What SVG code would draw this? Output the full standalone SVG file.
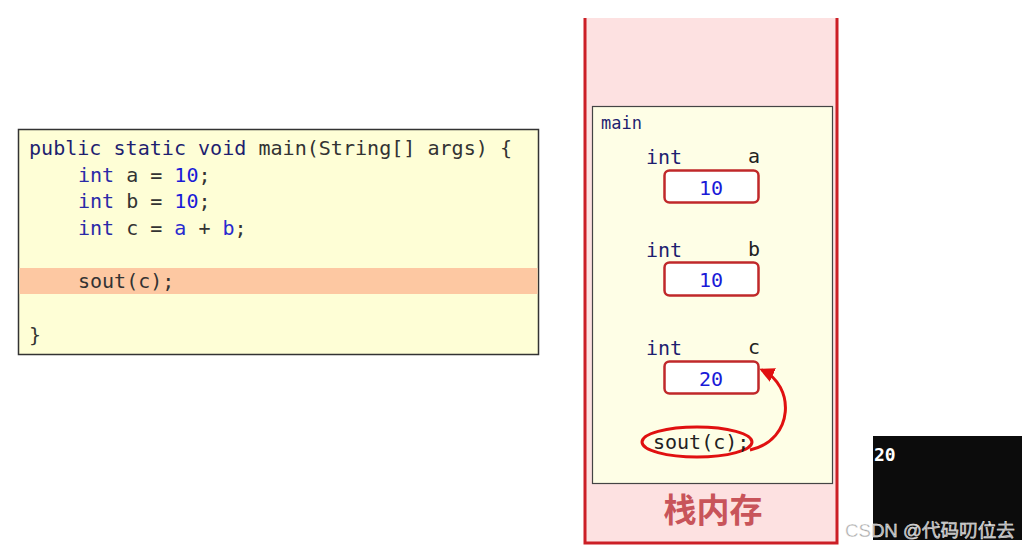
<svg xmlns="http://www.w3.org/2000/svg" width="1033" height="550" viewBox="0 0 1033 550">
<defs>
<style>
.mono{font-family:"DejaVu Sans Mono","Liberation Mono",monospace;}
.code{font-size:20px;fill:#333;}
.kw{fill:#1e1e70;}
.ty{fill:#2a2aa8;}
.num{fill:#1a1ad8;}
.var{fill:#2a2ad0;}
.box{fill:#fff;stroke:#c0282a;stroke-width:2.5;}
.mem{font-size:20px;}
</style>
<marker id="ah" viewBox="0 0 10 10" refX="8" refY="5" markerWidth="5" markerHeight="5" orient="auto">
<path d="M0,0 L10,5 L0,10 z" fill="#e01010"/>
</marker>
</defs>
<rect width="1033" height="550" fill="#fff"/>

<g id="code">
<rect x="18.5" y="129.5" width="520" height="225" fill="#fefed6" stroke="#333" stroke-width="1.5"/>
<rect x="19.5" y="268" width="518" height="26" fill="#fdc8a2"/>
<text class="mono code" x="29" y="155" textLength="483" lengthAdjust="spacingAndGlyphs"><tspan class="kw">public static void</tspan> main(String[] args) {</text>
<text class="mono code" x="78" y="182"><tspan class="ty">int</tspan> a = <tspan class="num">10</tspan>;</text>
<text class="mono code" x="78" y="208"><tspan class="ty">int</tspan> b = <tspan class="num">10</tspan>;</text>
<text class="mono code" x="78" y="235"><tspan class="ty">int</tspan> c = <tspan class="var">a</tspan> + <tspan class="var">b</tspan>;</text>
<text class="mono code" x="78" y="288">sout(c);</text>
<text class="mono code" x="29" y="342">}</text>
</g>

<g id="stack">
<rect x="584" y="18" width="253" height="525" fill="#fde1e1"/>
<path d="M585 18 V543 H837 V18" fill="none" stroke="#cc1f26" stroke-width="3"/>
<text x="713" y="522" text-anchor="middle" font-family="Noto Sans CJK SC,sans-serif" font-weight="bold" font-size="33" fill="#c8545a">栈内存</text>
</g>

<g id="main-frame">
<rect x="592.5" y="106.5" width="240" height="377" fill="#fefee6" stroke="#444" stroke-width="1.2"/>
<text class="mono" x="601" y="129" font-size="17" fill="#1e1e70">main</text>
</g>

<g id="var-a">
<text class="mono mem" x="646" y="164" fill="#1e1e70">int</text>
<text class="mono mem" x="748" y="163" fill="#222">a</text>
<rect class="box" x="664.5" y="170.5" width="94" height="32" rx="5"/>
<text class="mono mem" x="711" y="195" text-anchor="middle" fill="#1a1ad8">10</text>
</g>

<g id="var-b">
<text class="mono mem" x="646" y="257" fill="#1e1e70">int</text>
<text class="mono mem" x="748" y="256" fill="#222">b</text>
<rect class="box" x="664.5" y="262.5" width="94" height="33" rx="5"/>
<text class="mono mem" x="711" y="287" text-anchor="middle" fill="#1a1ad8">10</text>
</g>

<g id="var-c">
<text class="mono mem" x="646" y="355" fill="#1e1e70">int</text>
<text class="mono mem" x="748" y="354" fill="#222">c</text>
<rect class="box" x="664.5" y="361.5" width="94" height="32" rx="5"/>
<text class="mono mem" x="711" y="386" text-anchor="middle" fill="#1a1ad8">20</text>
</g>

<g id="sout">
<ellipse cx="697" cy="442" rx="55" ry="15" fill="none" stroke="#e01010" stroke-width="3"/>
<text class="mono mem" x="653" y="449" fill="#222">sout(c);</text>
</g>

<g id="connectors">
<path d="M750 450 C 795 440, 795 385, 762 370" fill="none" stroke="#e01010" stroke-width="3" marker-end="url(#ah)"/>
</g>

<g id="console">
<rect x="873" y="436" width="149" height="104" fill="#0c0c0c"/>
<text class="mono" x="874" y="461" font-size="18" font-weight="bold" fill="#fff">20</text>
</g>

<text x="845" y="537" font-family="Liberation Sans,Noto Sans CJK SC,sans-serif" font-size="18" fill="#aaa" stroke="#fff" stroke-width="0.4" textLength="170" lengthAdjust="spacingAndGlyphs">CSDN @代码叨位去</text>
</svg>
